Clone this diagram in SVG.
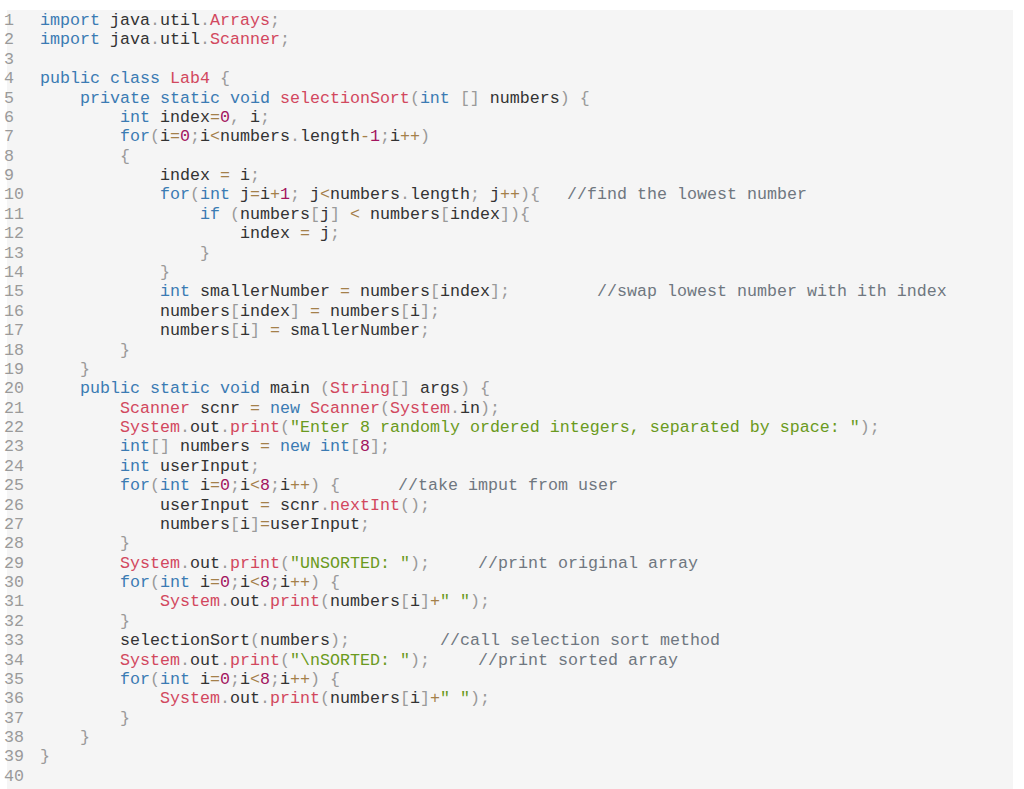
<svg xmlns="http://www.w3.org/2000/svg" width="1024" height="789" viewBox="0 0 1024 789" xml:space="preserve">
<style>
text{font-family:"Liberation Mono","DejaVu Sans Mono",monospace;font-size:16.67px;fill:#333;white-space:pre}
.ln{fill:#9a9a9a}
.k{fill:#3b7bb3}.t{fill:#d2485e}.n{fill:#a3155f}.o{fill:#a4804a}.p{fill:#9a9a9a}.s{fill:#6a9a20}.c{fill:#6f7780}
</style>
<rect x="0" y="0" width="1024" height="789" fill="#ffffff"/>
<rect x="7" y="10" width="1006" height="779" fill="#f5f5f5"/>
<g id="linenumbers">
<text class="ln" x="4" y="25">1</text><text class="ln" x="4" y="44.4">2</text><text class="ln" x="4" y="63.8">3</text><text class="ln" x="4" y="83.1">4</text><text class="ln" x="4" y="102.5">5</text><text class="ln" x="4" y="121.9">6</text><text class="ln" x="4" y="141.3">7</text><text class="ln" x="4" y="160.7">8</text><text class="ln" x="4" y="180">9</text><text class="ln" x="4" y="199.4">10</text><text class="ln" x="4" y="218.8">11</text><text class="ln" x="4" y="238.2">12</text><text class="ln" x="4" y="257.6">13</text><text class="ln" x="4" y="276.9">14</text><text class="ln" x="4" y="296.3">15</text><text class="ln" x="4" y="315.7">16</text><text class="ln" x="4" y="335.1">17</text><text class="ln" x="4" y="354.5">18</text><text class="ln" x="4" y="373.8">19</text><text class="ln" x="4" y="393.2">20</text><text class="ln" x="4" y="412.6">21</text><text class="ln" x="4" y="432">22</text><text class="ln" x="4" y="451.4">23</text><text class="ln" x="4" y="470.7">24</text><text class="ln" x="4" y="490.1">25</text><text class="ln" x="4" y="509.5">26</text><text class="ln" x="4" y="528.9">27</text><text class="ln" x="4" y="548.3">28</text><text class="ln" x="4" y="567.6">29</text><text class="ln" x="4" y="587">30</text><text class="ln" x="4" y="606.4">31</text><text class="ln" x="4" y="625.8">32</text><text class="ln" x="4" y="645.2">33</text><text class="ln" x="4" y="664.5">34</text><text class="ln" x="4" y="683.9">35</text><text class="ln" x="4" y="703.3">36</text><text class="ln" x="4" y="722.7">37</text><text class="ln" x="4" y="742.1">38</text><text class="ln" x="4" y="761.4">39</text><text class="ln" x="4" y="780.8">40</text>
</g>
<g id="code">
<text x="40" y="25"><tspan class="k">import</tspan> java<tspan class="p">.</tspan>util<tspan class="p">.</tspan><tspan class="t">Arrays</tspan><tspan class="p">;</tspan></text>
<text x="40" y="44.4"><tspan class="k">import</tspan> java<tspan class="p">.</tspan>util<tspan class="p">.</tspan><tspan class="t">Scanner</tspan><tspan class="p">;</tspan></text>
<text x="40" y="83.1"><tspan class="k">public class</tspan> <tspan class="t">Lab4</tspan> <tspan class="p">{</tspan></text>
<text x="80" y="102.5"><tspan class="k">private static void</tspan> <tspan class="t">selectionSort</tspan><tspan class="p">(</tspan><tspan class="k">int</tspan> <tspan class="p">[]</tspan> numbers<tspan class="p">)</tspan> <tspan class="p">{</tspan></text>
<text x="120" y="121.9"><tspan class="k">int</tspan> index<tspan class="o">=</tspan><tspan class="n">0</tspan><tspan class="p">,</tspan> i<tspan class="p">;</tspan></text>
<text x="120" y="141.3"><tspan class="k">for</tspan><tspan class="p">(</tspan>i<tspan class="o">=</tspan><tspan class="n">0</tspan><tspan class="p">;</tspan>i<tspan class="o">&lt;</tspan>numbers<tspan class="p">.</tspan>length<tspan class="o">-</tspan><tspan class="n">1</tspan><tspan class="p">;</tspan>i<tspan class="o">++</tspan><tspan class="p">)</tspan></text>
<text x="120" y="160.7"><tspan class="p">{</tspan></text>
<text x="160" y="180">index <tspan class="o">=</tspan> i<tspan class="p">;</tspan></text>
<text x="160" y="199.4"><tspan class="k">for</tspan><tspan class="p">(</tspan><tspan class="k">int</tspan> j<tspan class="o">=</tspan>i<tspan class="o">+</tspan><tspan class="n">1</tspan><tspan class="p">;</tspan> j<tspan class="o">&lt;</tspan>numbers<tspan class="p">.</tspan>length<tspan class="p">;</tspan> j<tspan class="o">++</tspan><tspan class="p">){</tspan></text>
<text x="200" y="218.8"><tspan class="k">if</tspan> <tspan class="p">(</tspan>numbers<tspan class="p">[</tspan>j<tspan class="p">]</tspan> <tspan class="o">&lt;</tspan> numbers<tspan class="p">[</tspan>index<tspan class="p">]){</tspan></text>
<text x="240" y="238.2">index <tspan class="o">=</tspan> j<tspan class="p">;</tspan></text>
<text x="200" y="257.6"><tspan class="p">}</tspan></text>
<text x="160" y="276.9"><tspan class="p">}</tspan></text>
<text x="160" y="296.3"><tspan class="k">int</tspan> smallerNumber <tspan class="o">=</tspan> numbers<tspan class="p">[</tspan>index<tspan class="p">];</tspan></text>
<text x="160" y="315.7">numbers<tspan class="p">[</tspan>index<tspan class="p">]</tspan> <tspan class="o">=</tspan> numbers<tspan class="p">[</tspan>i<tspan class="p">];</tspan></text>
<text x="160" y="335.1">numbers<tspan class="p">[</tspan>i<tspan class="p">]</tspan> <tspan class="o">=</tspan> smallerNumber<tspan class="p">;</tspan></text>
<text x="120" y="354.5"><tspan class="p">}</tspan></text>
<text x="80" y="373.8"><tspan class="p">}</tspan></text>
<text x="80" y="393.2"><tspan class="k">public static void</tspan> main <tspan class="p">(</tspan><tspan class="t">String</tspan><tspan class="p">[]</tspan> args<tspan class="p">)</tspan> <tspan class="p">{</tspan></text>
<text x="120" y="412.6"><tspan class="t">Scanner</tspan> scnr <tspan class="o">=</tspan> <tspan class="k">new</tspan> <tspan class="t">Scanner</tspan><tspan class="p">(</tspan><tspan class="t">System</tspan><tspan class="p">.</tspan>in<tspan class="p">);</tspan></text>
<text x="120" y="432"><tspan class="t">System</tspan><tspan class="p">.</tspan>out<tspan class="p">.</tspan><tspan class="t">print</tspan><tspan class="p">(</tspan><tspan class="s">"Enter 8 randomly ordered integers, separated by space: "</tspan><tspan class="p">);</tspan></text>
<text x="120" y="451.4"><tspan class="k">int</tspan><tspan class="p">[]</tspan> numbers <tspan class="o">=</tspan> <tspan class="k">new int</tspan><tspan class="p">[</tspan><tspan class="n">8</tspan><tspan class="p">];</tspan></text>
<text x="120" y="470.7"><tspan class="k">int</tspan> userInput<tspan class="p">;</tspan></text>
<text x="120" y="490.1"><tspan class="k">for</tspan><tspan class="p">(</tspan><tspan class="k">int</tspan> i<tspan class="o">=</tspan><tspan class="n">0</tspan><tspan class="p">;</tspan>i<tspan class="o">&lt;</tspan><tspan class="n">8</tspan><tspan class="p">;</tspan>i<tspan class="o">++</tspan><tspan class="p">)</tspan> <tspan class="p">{</tspan></text>
<text x="160" y="509.5">userInput <tspan class="o">=</tspan> scnr<tspan class="p">.</tspan><tspan class="t">nextInt</tspan><tspan class="p">();</tspan></text>
<text x="160" y="528.9">numbers<tspan class="p">[</tspan>i<tspan class="p">]</tspan><tspan class="o">=</tspan>userInput<tspan class="p">;</tspan></text>
<text x="120" y="548.3"><tspan class="p">}</tspan></text>
<text x="120" y="567.6"><tspan class="t">System</tspan><tspan class="p">.</tspan>out<tspan class="p">.</tspan><tspan class="t">print</tspan><tspan class="p">(</tspan><tspan class="s">"UNSORTED: "</tspan><tspan class="p">);</tspan></text>
<text x="120" y="587"><tspan class="k">for</tspan><tspan class="p">(</tspan><tspan class="k">int</tspan> i<tspan class="o">=</tspan><tspan class="n">0</tspan><tspan class="p">;</tspan>i<tspan class="o">&lt;</tspan><tspan class="n">8</tspan><tspan class="p">;</tspan>i<tspan class="o">++</tspan><tspan class="p">)</tspan> <tspan class="p">{</tspan></text>
<text x="160" y="606.4"><tspan class="t">System</tspan><tspan class="p">.</tspan>out<tspan class="p">.</tspan><tspan class="t">print</tspan><tspan class="p">(</tspan>numbers<tspan class="p">[</tspan>i<tspan class="p">]</tspan><tspan class="o">+</tspan><tspan class="s">" "</tspan><tspan class="p">);</tspan></text>
<text x="120" y="625.8"><tspan class="p">}</tspan></text>
<text x="120" y="645.2">selectionSort<tspan class="p">(</tspan>numbers<tspan class="p">);</tspan></text>
<text x="120" y="664.5"><tspan class="t">System</tspan><tspan class="p">.</tspan>out<tspan class="p">.</tspan><tspan class="t">print</tspan><tspan class="p">(</tspan><tspan class="s">"\nSORTED: "</tspan><tspan class="p">);</tspan></text>
<text x="120" y="683.9"><tspan class="k">for</tspan><tspan class="p">(</tspan><tspan class="k">int</tspan> i<tspan class="o">=</tspan><tspan class="n">0</tspan><tspan class="p">;</tspan>i<tspan class="o">&lt;</tspan><tspan class="n">8</tspan><tspan class="p">;</tspan>i<tspan class="o">++</tspan><tspan class="p">)</tspan> <tspan class="p">{</tspan></text>
<text x="160" y="703.3"><tspan class="t">System</tspan><tspan class="p">.</tspan>out<tspan class="p">.</tspan><tspan class="t">print</tspan><tspan class="p">(</tspan>numbers<tspan class="p">[</tspan>i<tspan class="p">]</tspan><tspan class="o">+</tspan><tspan class="s">" "</tspan><tspan class="p">);</tspan></text>
<text x="120" y="722.7"><tspan class="p">}</tspan></text>
<text x="80" y="742.1"><tspan class="p">}</tspan></text>
<text x="40" y="761.4"><tspan class="p">}</tspan></text>
</g>
<g id="comments">
<text class="c" x="567" y="199.4">//find the lowest number</text>
<text class="c" x="597" y="296.3">//swap lowest number with ith index</text>
<text class="c" x="398" y="490.1">//take imput from user</text>
<text class="c" x="478" y="567.6">//print original array</text>
<text class="c" x="440" y="645.2">//call selection sort method</text>
<text class="c" x="478" y="664.5">//print sorted array</text>
</g>
</svg>
